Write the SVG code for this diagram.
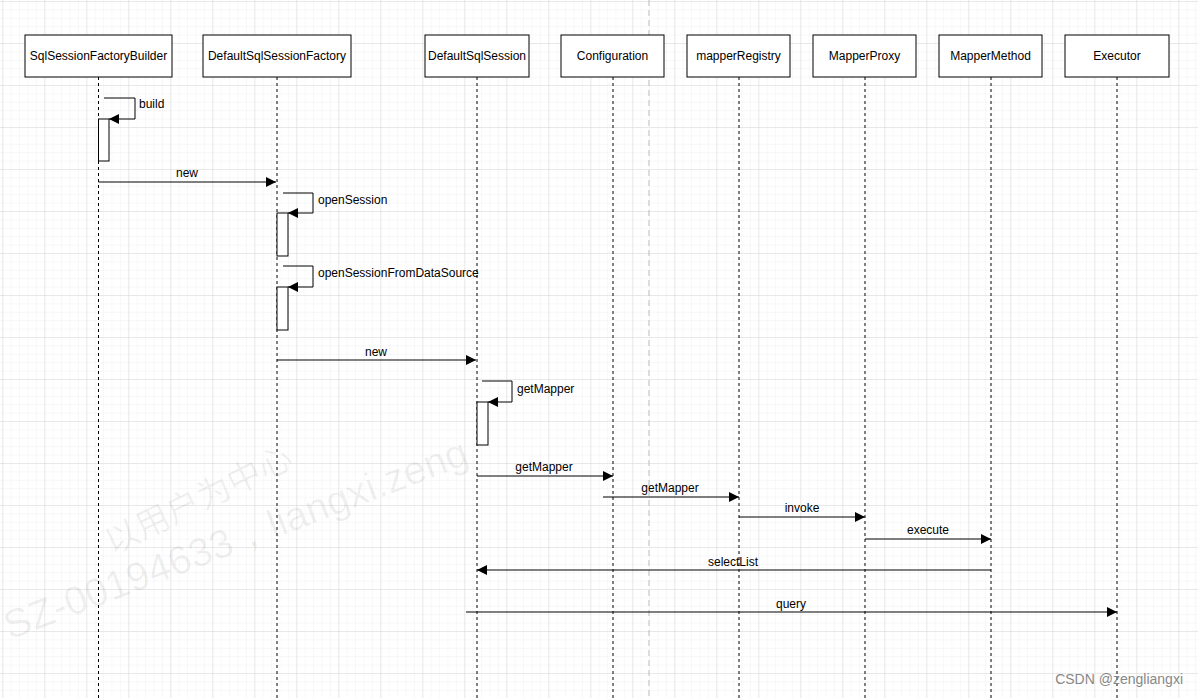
<svg xmlns="http://www.w3.org/2000/svg" width="1198" height="698" viewBox="0 0 1198 698">
<defs>
<pattern id="minor" x="2.3" y="1" width="8.4" height="8.4" patternUnits="userSpaceOnUse"><path d="M0 0H8.4M0 0V8.4" fill="none" stroke="#f0f0f0" stroke-width="1"/></pattern>
<pattern id="major" x="2.3" y="1" width="42" height="42" patternUnits="userSpaceOnUse"><path d="M0 0H42M0 0V42" fill="none" stroke="#d9d9d9" stroke-width="1"/></pattern>
<marker id="a" viewBox="0 0 10 10" refX="10" refY="5" markerWidth="10" markerHeight="10" markerUnits="userSpaceOnUse" orient="auto"><path d="M0 0L10 5L0 10Z" fill="#000"/></marker>
</defs>
<style>
text{font-family:"Liberation Sans",Arial,sans-serif;font-size:12px;fill:#000}
.box{fill:#fff;stroke:#000;stroke-width:1}
.life{stroke:#000;stroke-dasharray:3 3;fill:none}
.msg{stroke:#000;fill:none;marker-end:url(#a)}
.act{fill:#fff;stroke:#000}
.wm{fill:#000;fill-opacity:0.06}
</style>
<rect width="1198" height="698" fill="#fff"/>
<rect width="1198" height="698" fill="url(#minor)"/>
<rect width="1198" height="698" fill="url(#major)"/>
<line x1="649" y1="0" x2="649" y2="698" stroke="#bbb" stroke-dasharray="6 4"/>
<g id="lifelines">
<line class="life" x1="98.5" y1="77" x2="98.5" y2="698"/>
<line class="life" x1="277" y1="77" x2="277" y2="698" stroke="#666"/>
<line class="life" x1="477" y1="77" x2="477" y2="698"/>
<line class="life" x1="613" y1="77" x2="613" y2="698"/>
<line class="life" x1="739" y1="77" x2="739" y2="698"/>
<line class="life" x1="865" y1="77" x2="865" y2="698"/>
<line class="life" x1="991" y1="77" x2="991" y2="698"/>
<line class="life" x1="1117" y1="77" x2="1117" y2="698"/>
</g>
<g id="n1"><rect class="box" x="25" y="35" width="147" height="42"/><text x="98.5" y="60" text-anchor="middle">SqlSessionFactoryBuilder</text></g>
<g id="n2"><rect class="box" x="203" y="35" width="148" height="42"/><text x="277" y="60" text-anchor="middle">DefaultSqlSessionFactory</text></g>
<g id="n3"><rect class="box" x="425" y="35" width="104" height="42"/><text x="477" y="60" text-anchor="middle">DefaultSqlSession</text></g>
<g id="n4"><rect class="box" x="561" y="35" width="103" height="42"/><text x="612.5" y="60" text-anchor="middle">Configuration</text></g>
<g id="n5"><rect class="box" x="687" y="35" width="103" height="42"/><text x="738.5" y="60" text-anchor="middle">mapperRegistry</text></g>
<g id="n6"><rect class="box" x="813" y="35" width="103" height="42"/><text x="864.5" y="60" text-anchor="middle">MapperProxy</text></g>
<g id="n7"><rect class="box" x="939" y="35" width="103" height="42"/><text x="990.5" y="60" text-anchor="middle">MapperMethod</text></g>
<g id="n8"><rect class="box" x="1065" y="35" width="104" height="42"/><text x="1117" y="60" text-anchor="middle">Executor</text></g>
<g id="activations">
<rect class="act" x="98.5" y="119" width="10.5" height="42"/>
<rect class="act" x="277" y="213" width="11" height="43"/>
<rect class="act" x="277" y="287" width="11" height="43"/>
<rect class="act" x="477" y="402" width="11" height="43"/>
</g>
<g id="connectors">
<path class="msg" d="M104 98H135V119H109"/>
<line class="msg" x1="98.5" y1="182" x2="276" y2="182"/>
<path class="msg" d="M283 193H313V213H288"/>
<path class="msg" d="M283 266H313V287H288"/>
<line class="msg" x1="277" y1="360" x2="476" y2="360"/>
<path class="msg" d="M482 381H512V402H488"/>
<line class="msg" x1="477" y1="476" x2="613" y2="476"/>
<line class="msg" x1="603" y1="497" x2="739" y2="497"/>
<line class="msg" x1="739" y1="517" x2="865" y2="517"/>
<line class="msg" x1="865" y1="539" x2="991" y2="539"/>
<line class="msg" x1="991" y1="570" x2="477" y2="570"/>
<line class="msg" x1="466" y1="612" x2="1117" y2="612"/>
</g>
<g id="labels">
<text x="139" y="108">build</text>
<text x="187" y="177" text-anchor="middle">new</text>
<text x="318" y="204">openSession</text>
<text x="318" y="277">openSessionFromDataSource</text>
<text x="376" y="356" text-anchor="middle">new</text>
<text x="517" y="393">getMapper</text>
<text x="544" y="471" text-anchor="middle">getMapper</text>
<text x="670" y="492" text-anchor="middle">getMapper</text>
<text x="802" y="512" text-anchor="middle">invoke</text>
<text x="928" y="534" text-anchor="middle">execute</text>
<text x="733" y="566" text-anchor="middle">selectList</text>
<text x="791" y="608" text-anchor="middle">query</text>
</g>
<text class="wm" transform="translate(112,555) rotate(-26)" style="font-size:34px;font-family:'Liberation Sans','Noto Sans CJK SC',sans-serif">以用户为中心</text>
<text class="wm" transform="translate(10,640) rotate(-21)" style="font-size:40px">SZ-00194633，liangxi.zeng</text>
<text x="1183" y="684" text-anchor="end" style="font-size:14px;fill:#888">CSDN @zengliangxi</text>
</svg>
